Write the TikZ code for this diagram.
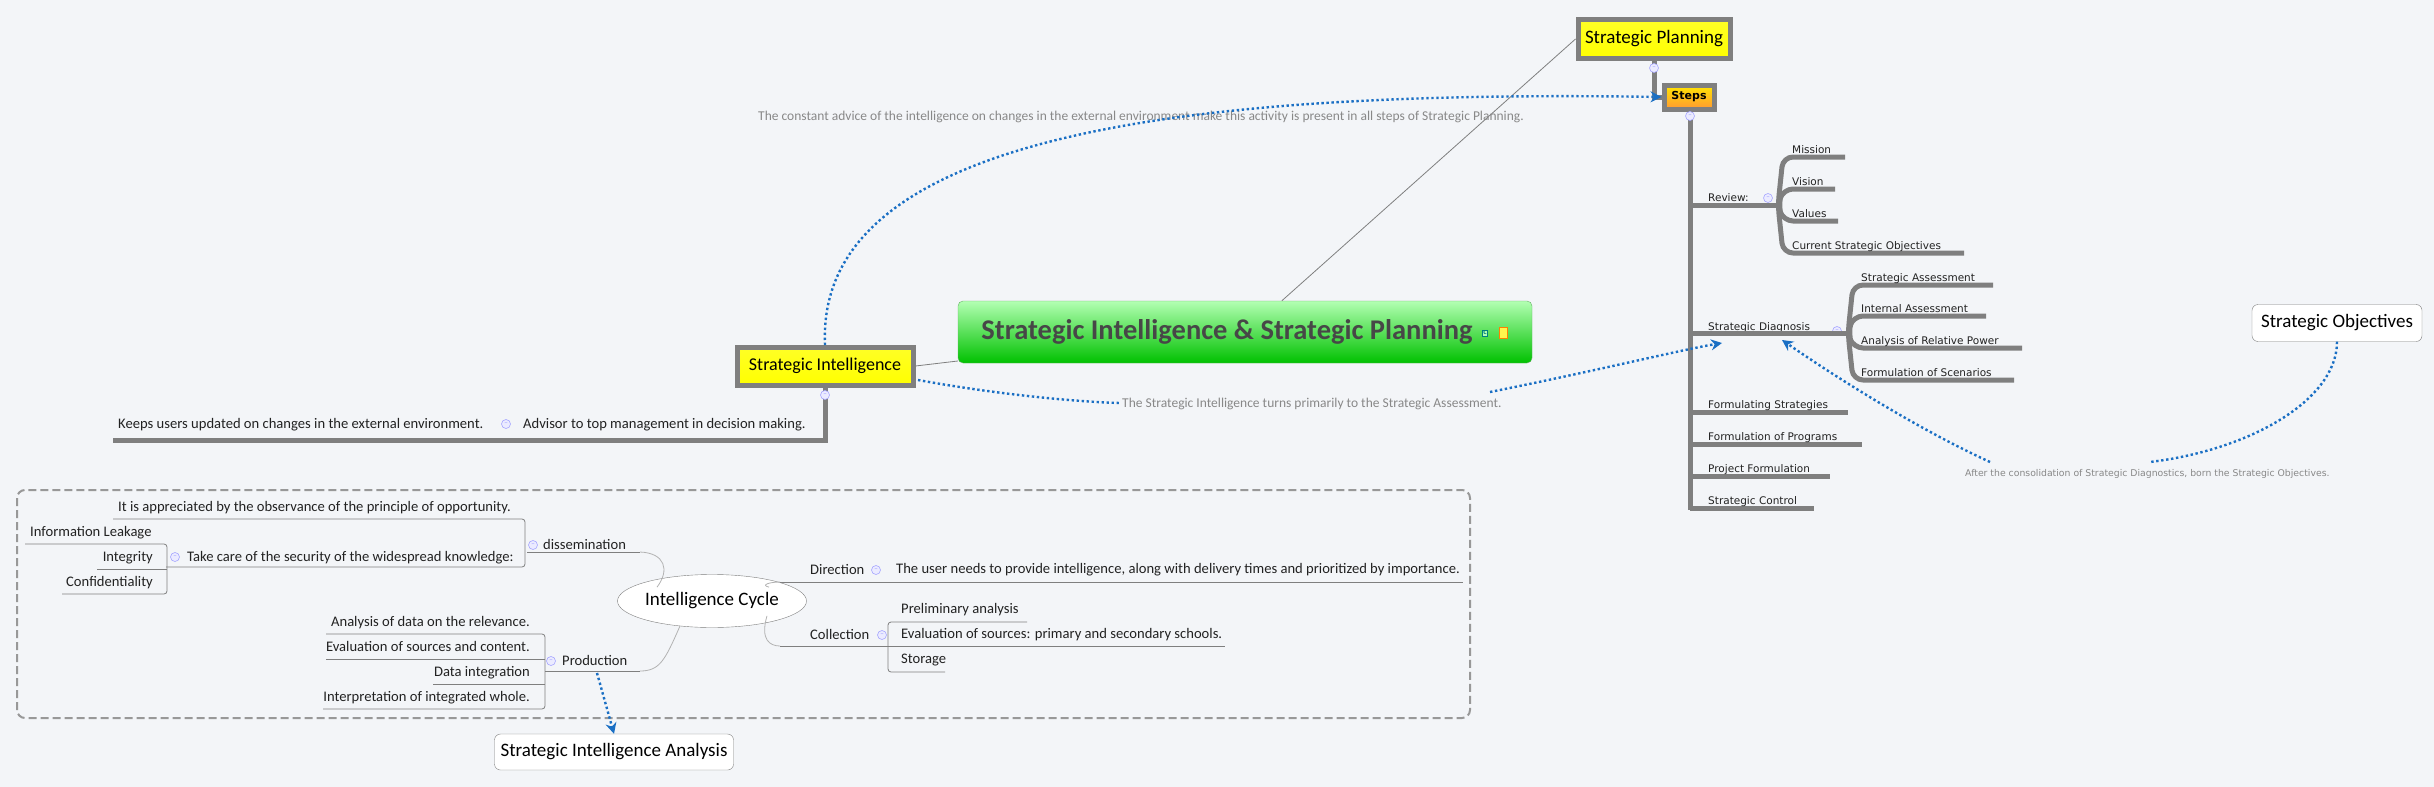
\documentclass[tikz,border=0pt]{standalone}
\usepackage{fontspec}
\setmainfont{Carlito}
\newfontfamily\rfam{DejaVu Sans}
\usetikzlibrary{shapes.geometric,arrows.meta,calc}
\definecolor{bg}{HTML}{F3F5F8}
\definecolor{gl}{HTML}{7F7F7F}
\definecolor{bl}{HTML}{1A6FC4}
\definecolor{tx}{HTML}{222222}
\definecolor{nt}{HTML}{888888}
\tikzset{
 sm/.style={inner sep=0pt,anchor=base west,font=\fontsize{14.6}{16}\selectfont,text=tx},
 rs/.style={inner sep=0pt,anchor=base west,font=\fontsize{10.5}{13}\selectfont\rfam,text=tx},
 thin/.style={draw=gl,line width=0.8pt},
 thick/.style={draw=gl,line width=5pt},
 dot/.style={draw=bl,line width=2.4pt,dash pattern=on 2.4pt off 2.6pt},
 tip/.style={-{Stealth[length=11pt,width=11pt]}},
 note/.style={inner sep=0pt,anchor=base west,font=\fontsize{13.5}{15}\selectfont,text=nt},
 yel/.style={draw=gl,line width=5pt,top color=yellow!85!white,bottom color=yellow,inner sep=0pt},
 cc/.style={circle,draw=blue!35,fill=blue!8,line width=0.6pt,minimum size=9pt,inner sep=0pt,font=\fontsize{7}{7}\selectfont,text=blue!40},
}
\begin{document}
\begin{tikzpicture}[x=1pt,y=-1pt]
\fill[bg] (0,0) rectangle (2434,787);
\useasboundingbox (0,0) rectangle (2434,787);
% dashed boundary
\draw[gl!80,line width=2pt,dash pattern=on 8pt off 4pt,rounded corners=8pt] (17,490) rectangle (1470,718);
% central
\node[draw=green!50!black!60,rounded corners=5pt,top color=green!30!white,bottom color=green!65!black!70!green,minimum width=574pt,minimum height=62pt,inner sep=0pt] (c) at (1245,332) {};
\node[inner sep=0pt,font=\bfseries\fontsize{28.5}{31}\selectfont,text=black!72] (ct) at (1227,332) {Strategic Intelligence \& Strategic Planning};
\node[draw=teal,fill=green!30,inner sep=1pt,font=\bfseries\fontsize{8}{8}\selectfont,text=teal] (ic1) at (1485,333) {c};
\node[draw=orange,fill=yellow!70,minimum width=8pt,minimum height=11pt,inner sep=0pt] (ic2) at (1503,333) {};
% Strategic planning
\node[yel,minimum width=152pt,minimum height=39pt,font=\fontsize{19}{22}\selectfont] (sp) at (1654,39) {Strategic Planning};
\node[draw=gl,line width=5pt,top color=yellow!80!orange,bottom color=orange!80,minimum width=50pt,minimum height=24pt,inner sep=0pt,font=\fontsize{11}{13}\selectfont\rfam\bfseries] (st) at (1689,97) {Steps};
\draw[gl,line width=0.8pt] (c.north west) ++(324,0) coordinate (cn) -- (sp.west);
\draw[thick] (1654,60) -- (1654,97) -- (st.west);
\node[cc] (c0) at (1654,68) {−};
\draw[thick] (1690,109) -- (1690,510);
\node[cc] (c1) at (1690,116) {−};
% Review
\node[rs] (rv) at (1708,201) {Review:};
\node[cc] (c2) at (1768,198) {−};
\draw[thick] (1690,205) -- (1778,205);
\draw[thick,rounded corners=10pt] (1845,157) -- (1783,157) -- (1778,205) -- (1783,253) -- (1964,253);
\draw[thick,rounded corners=10pt] (1835,189) -- (1783,189) -- (1778,205) -- (1783,221) -- (1838,221);
\node[rs] (m1) at (1792,153) {Mission};
\node[rs] (m2) at (1792,185) {Vision};
\node[rs] (m3) at (1792,217) {Values};
\node[rs] (m4) at (1792,249) {Current Strategic Objectives};
% Diagnosis
\node[rs] (sd) at (1708,330) {Strategic Diagnosis};
\node[cc] (c3) at (1837,331) {−};
\draw[thick] (1690,333) -- (1848,333);
\draw[thick,rounded corners=10pt] (1993,285) -- (1853,285) -- (1848,333) -- (1853,380) -- (2014,380);
\draw[thick,rounded corners=10pt] (1986,316) -- (1853,316) -- (1848,333) -- (1853,348) -- (2022,348);
\node[rs] (d1) at (1861,281) {Strategic Assessment};
\node[rs] (d2) at (1861,312) {Internal Assessment};
\node[rs] (d3) at (1861,344) {Analysis of Relative Power};
\node[rs] (d4) at (1861,376) {Formulation of Scenarios};
% other steps
\draw[thick] (1690,412) -- (1848,412); \node[rs] (f1) at (1708,408) {Formulating Strategies};
\draw[thick] (1690,444) -- (1862,444); \node[rs] (f2) at (1708,440) {Formulation of Programs};
\draw[thick] (1690,476) -- (1830,476); \node[rs] (f3) at (1708,472) {Project Formulation};
\draw[thick] (1690,508) -- (1814,508); \node[rs] (f4) at (1708,504) {Strategic Control};
% Strategic objectives
\node[draw=gl,fill=white,rounded corners=6pt,minimum width=170pt,minimum height=37pt,inner sep=0pt,font=\fontsize{19}{22}\selectfont] (so) at (2337,323) {Strategic Objectives};
\node[note,font=\fontsize{9.3}{11}\selectfont\rfam] (n3) at (1965,476) {After the consolidation of Strategic Diagnostics, born the Strategic Objectives.};
\draw[dot] (so.south) .. controls (2337,400) and (2250,450) .. (2150,462) coordinate (n3a);
\draw[dot,tip] (1990,462) .. controls (1920,430) and (1840,380) .. (1782,340);
% Strategic Intelligence
\node[yel,minimum width=176pt,minimum height=38pt,font=\fontsize{18}{21}\selectfont] (si) at (825,366) {Strategic Intelligence};
\draw[gl,line width=0.8pt] (si.east) -- (c.west|-0,361);
\draw[thick] (825,388) -- (825,440) -- (113,440);
\node[cc] (c4) at (825,395) {−};
\node[sm] (a1) at (523,428) {Advisor to top management in decision making.};
\node[cc] (c5) at (506,424) {−};
\node[sm] (a2) at (118,428) {Keeps users updated on changes in the external environment.};
% notes
\node[note] (n1) at (758,120) {The constant advice of the intelligence on changes in the external environment make this activity is present in all steps of Strategic Planning.};
\draw[dot,tip] (825,345) .. controls (815,130) and (1200,90) .. (st.west);
\node[note] (n2) at (1122,407) {The Strategic Intelligence turns primarily to the Strategic Assessment.};
\draw[dot] (918,380) .. controls (1000,395) and (1080,402) .. (1120,403);
\draw[dot,tip] (1490,392) .. controls (1600,370) and (1680,350) .. (1722,343);
% Intelligence cycle
\node[ellipse,draw=gl,fill=white,minimum width=152pt,minimum height=53pt,inner sep=0pt,font=\fontsize{19}{22}\selectfont] (ic) at (712,601) {Intelligence Cycle};
% dissemination
\draw[thin,draw=gl!60] (ic.north west) ++(12,5) coordinate (icl) .. controls (670,570) and (665,553) .. (640,552);
\draw[thin] (640,552) -- (527,552);
\node[sm] (ds) at (543,549) {dissemination};
\node[cc] (c6) at (533,545) {−};
\draw[thin,rounded corners=3pt] (113,519) -- (525,519) -- (525,567) -- (166,567);
\node[sm] (t1) at (118,511) {It is appreciated by the observance of the principle of opportunity.};
\node[cc] (c7) at (175,557) {−};
\node[sm] (t2) at (187,561) {Take care of the security of the widespread knowledge:};
\draw[thin,rounded corners=3pt] (25,544) -- (167,544) -- (167,594) -- (62,594);
\draw[thin] (97,569) -- (167,569);
\node[sm] (l1) at (30,536) {Information Leakage};
\node[sm,anchor=base east] (l2) at (153,561) {Integrity};
\node[sm,anchor=base east] (l3) at (153,586) {Confidentiality};
% production
\draw[thin,draw=gl!60] (680,626) .. controls (665,660) and (660,671) .. (640,671);
\draw[thin] (640,671) -- (545,671);
\node[sm] (pr) at (562,665) {Production};
\node[cc] (c8) at (551,661) {−};
\draw[thin,rounded corners=3pt] (326,634) -- (545,634) -- (545,709) -- (323,709);
\draw[thin] (326,659) -- (545,659);
\draw[thin] (433,684) -- (545,684);
\node[sm,anchor=base east] (p1) at (530,626) {Analysis of data on the relevance.};
\node[sm,anchor=base east] (p2) at (530,651) {Evaluation of sources and content.};
\node[sm,anchor=base east] (p3) at (530,676) {Data integration};
\node[sm,anchor=base east] (p4) at (530,701) {Interpretation of integrated whole.};
\node[draw=gl,fill=white,rounded corners=6pt,minimum width=239pt,minimum height=36pt,inner sep=0pt,font=\fontsize{19}{22}\selectfont] (sia) at (614,752) {Strategic Intelligence Analysis};
\draw[dot,tip] (597,673) -- (sia.north);
% direction
\draw[thin,draw=gl!60] (ic.north east) ++(-10,5) .. controls (760,585) and (770,582) .. (780,582);
\draw[thin] (780,582) -- (1463,582);
\node[sm] (dr) at (810,574) {Direction};
\node[cc] (c9) at (876,570) {−};
\node[sm] (dt) at (896,573) {The user needs to provide intelligence, along with delivery times and prioritized by importance.};
% collection
\draw[thin,draw=gl!60] (ic.south east) ++(-12,-4) .. controls (760,640) and (770,646) .. (780,646);
\draw[thin] (780,646) -- (888,646);
\node[sm] (co) at (810,639) {Collection};
\node[cc] (c10) at (882,635) {−};
\draw[thin,rounded corners=3pt] (1027,622) -- (888,622) -- (888,672) -- (945,672);
\draw[thin] (888,646) -- (1225,646);
\node[sm] (k1) at (901,613) {Preliminary analysis};
\node[sm] (k2) at (901,638) {Evaluation of sources: primary and secondary schools.};
\node[sm] (k3) at (901,663) {Storage};
\end{tikzpicture}
\end{document}
